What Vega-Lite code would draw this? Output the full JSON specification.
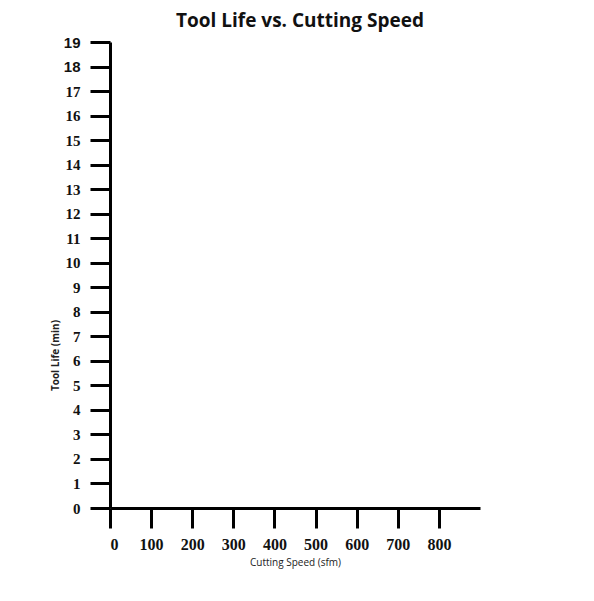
{
  "$schema": "https://vega.github.io/schema/vega-lite/v6.json",
  "autosize": "none",
  "width": 370,
  "height": 466,
  "padding": {"left": 110, "top": 42, "right": 114, "bottom": 93},
  "background": "white",
  "title": {
    "text": "Tool Life vs. Cutting Speed",
    "font": "Open Sans",
    "fontSize": 19,
    "fontWeight": "bold",
    "color": "#111111",
    "anchor": "middle",
    "offset": 4,
    "dx": 5
  },
  "data": {"values": []},
  "mark": {"type": "point", "opacity": 0},
  "encoding": {
    "x": {
      "field": "speed",
      "type": "quantitative",
      "scale": {"domain": [0, 900], "nice": false},
      "axis": {
        "title": "Cutting Speed (sfm)",
        "titleFont": "Open Sans",
        "titleFontSize": 10,
        "titleFontWeight": "normal",
        "titleColor": "#222222",
        "titlePadding": 5,
        "values": [0, 100, 200, 300, 400, 500, 600, 700, 800],
        "labelFont": "Liberation Serif",
        "labelFontSize": 16,
        "labelFontWeight": "bold",
        "labelColor": "#111111",
        "labelPadding": 8,
        "tickSize": 20,
        "tickWidth": 3,
        "tickColor": "black",
        "domainWidth": 3,
        "domainColor": "black",
        "grid": false
      }
    },
    "y": {
      "field": "life",
      "type": "quantitative",
      "scale": {"domain": [0, 19], "nice": false},
      "axis": {
        "title": "Tool Life (min)",
        "titleFont": "Open Sans",
        "titleFontSize": 10,
        "titleFontWeight": "bold",
        "titleColor": "#222222",
        "titleAngle": -90,
        "titleX": -55,
        "titleY": 313,
        "titleAlign": "center",
        "titleBaseline": "middle",
        "values": [0, 1, 2, 3, 4, 5, 6, 7, 8, 9, 10, 11, 12, 13, 14, 15, 16, 17, 18, 19],
        "labelFont": {"expr": "datum.value >= 18 ? 'Liberation Sans' : 'Liberation Serif'"},
        "labelFontSize": 15,
        "labelFontWeight": "bold",
        "labelColor": "#111111",
        "labelPadding": 10,
        "tickSize": 20,
        "tickWidth": 3,
        "tickColor": "black",
        "domainWidth": 3,
        "domainColor": "black",
        "grid": false
      }
    }
  },
  "config": {
    "view": {"stroke": null}
  }
}
